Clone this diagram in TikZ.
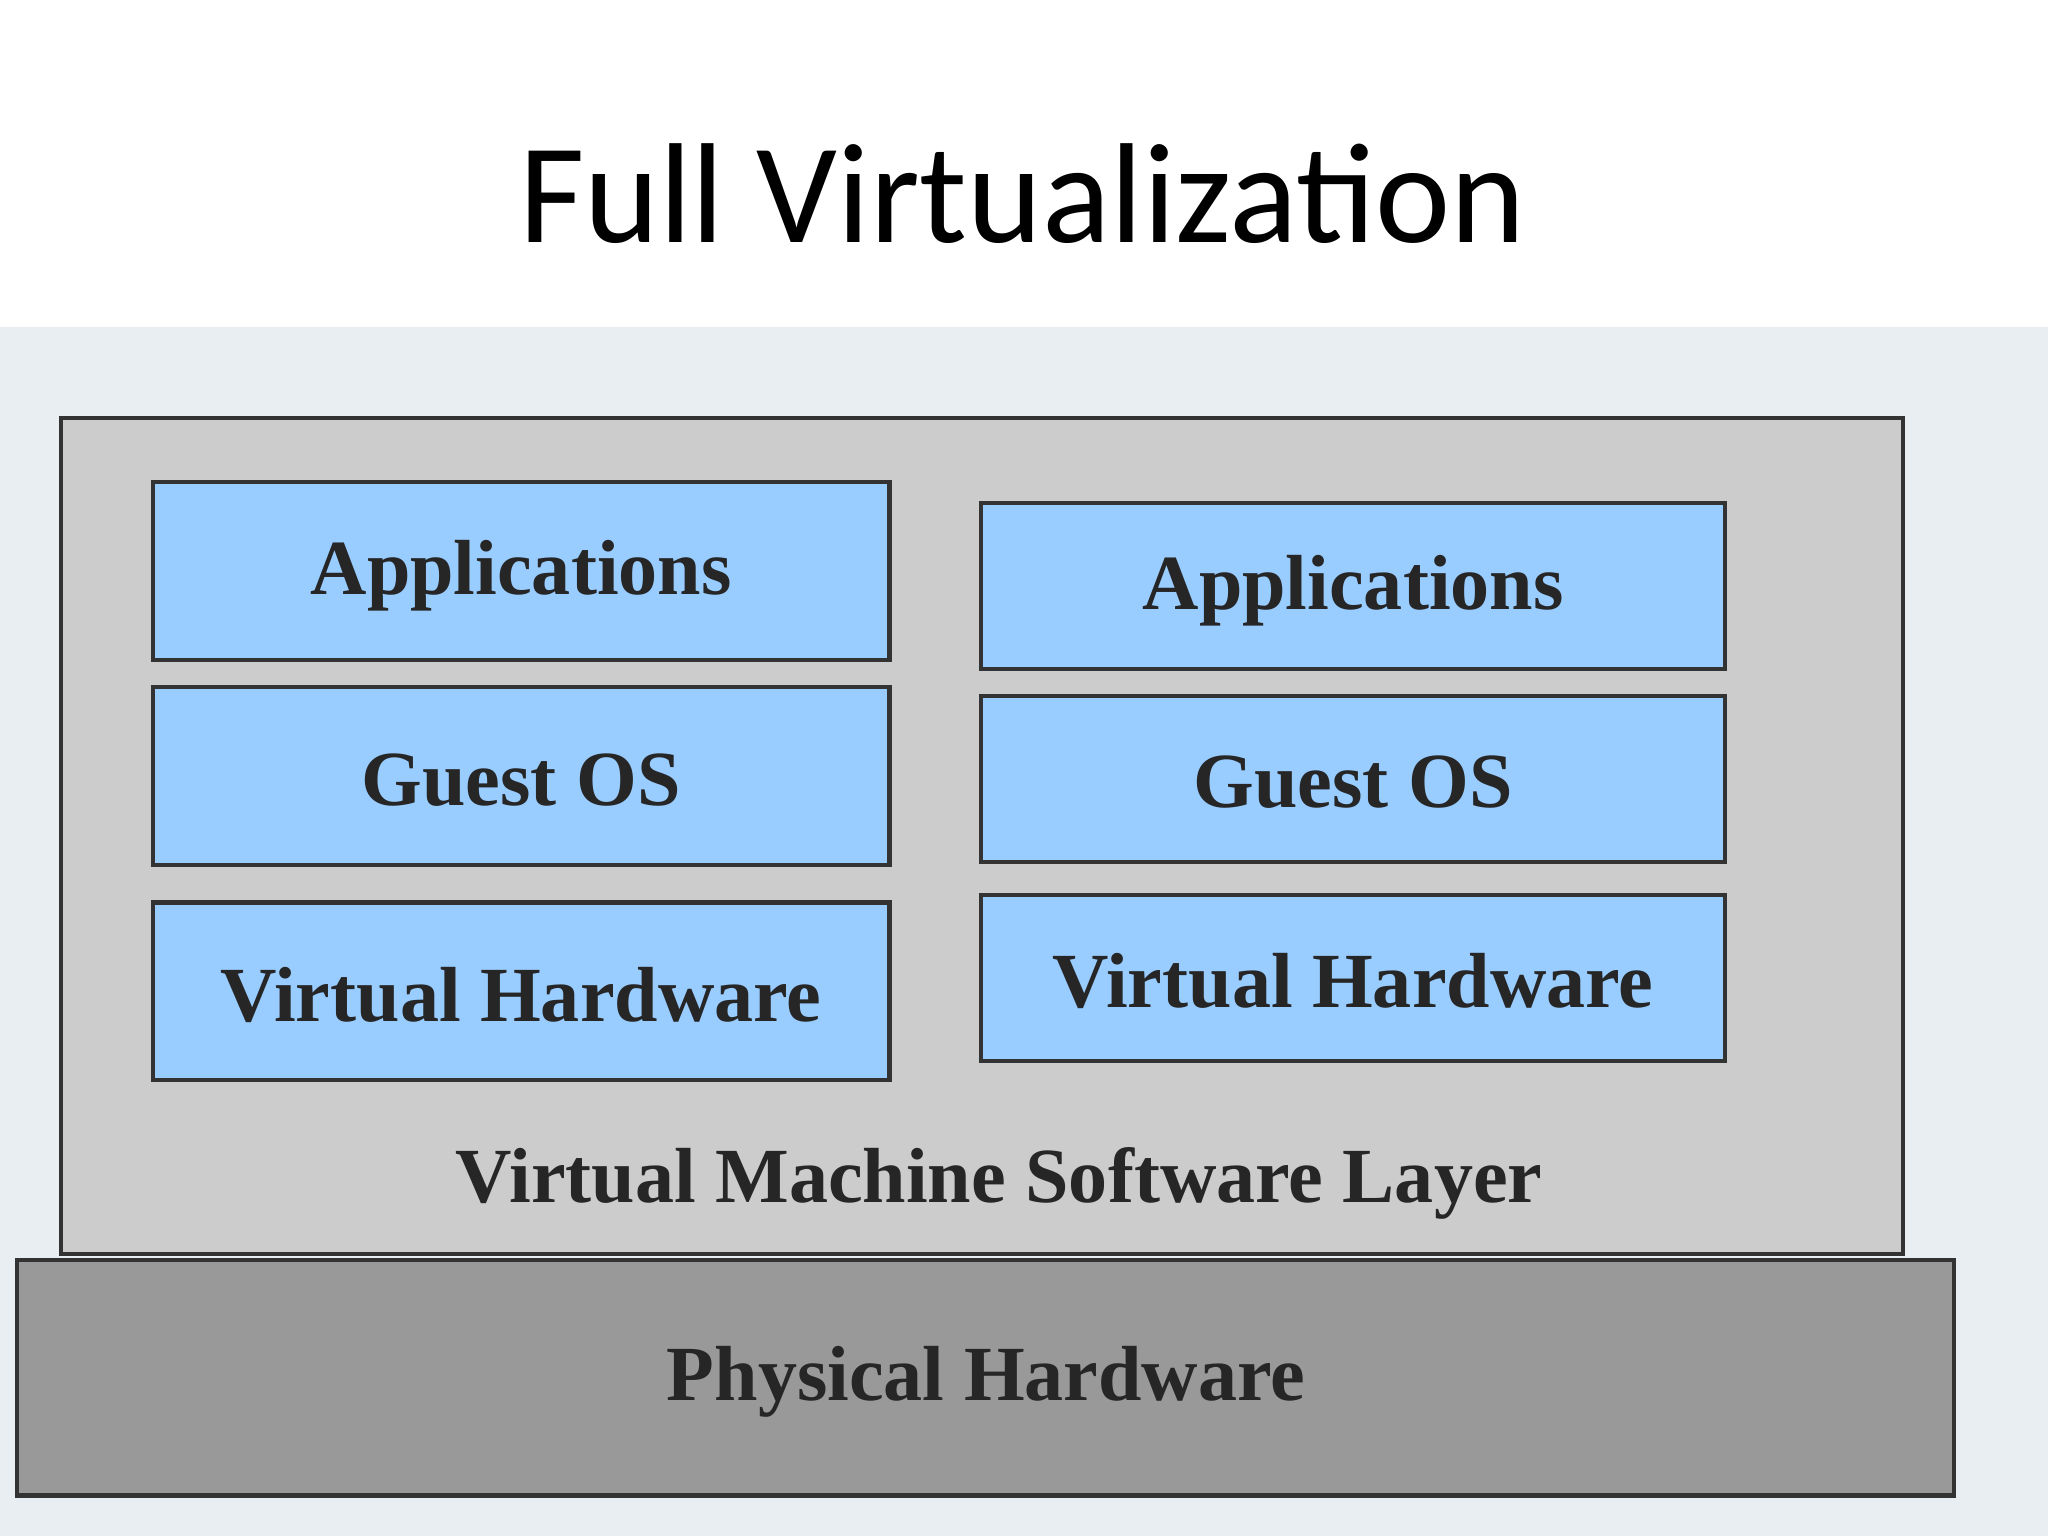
\documentclass[tikz,border=0pt]{standalone}
\usepackage{fontspec}
\setmainfont{Liberation Serif}
\newfontfamily\titlefont{Carlito}
\definecolor{bluebox}{HTML}{99CCFF}
\definecolor{vmgray}{HTML}{CCCCCC}
\definecolor{phgray}{HTML}{999999}
\definecolor{bgpale}{HTML}{E9EEF3}
\begin{document}
\begin{tikzpicture}[x=0.01cm,y=-0.01cm,
  blk/.style={draw=black!80,line width=0.9pt,fill=bluebox},
  lbl/.style={font=\fontsize{17}{20}\selectfont\bfseries,text=black!85}]
\useasboundingbox (0,0) rectangle (1568,1176);
\fill[white] (0,0) rectangle (1568,250);
\fill[bgpale] (0,250) rectangle (1568,1176);
\node[font=\titlefont\fontsize{31}{36}\selectfont] (title) at (783,148) {Full Virtualization};
\draw[black!80,line width=0.9pt,fill=vmgray] (47,320) rectangle (1457,960);
\draw[black!80,line width=0.9pt,fill=phgray] (13,965) rectangle (1496,1145);
\draw[blk] (117,369) rectangle (681,505);
\draw[blk] (117,526) rectangle (681,662);
\draw[blk] (117,691) rectangle (681,827);
\draw[blk] (751,385) rectangle (1321,512);
\draw[blk] (751,533) rectangle (1321,660);
\draw[blk] (751,685) rectangle (1321,812);
\node[lbl] (a1) at (399,441) {Applications};
\node[lbl] (g1) at (399,597) {Guest OS};
\node[lbl] (v1) at (399,762) {Virtual Hardware};
\node[lbl] (a2) at (1036,452) {Applications};
\node[lbl] (g2) at (1036,599) {Guest OS};
\node[lbl] (v2) at (1036,751) {Virtual Hardware};
\node[lbl] (vm) at (765,906) {Virtual Machine Software Layer};
\node[lbl] (ph) at (755,1058) {Physical Hardware};
\end{tikzpicture}
\end{document}
